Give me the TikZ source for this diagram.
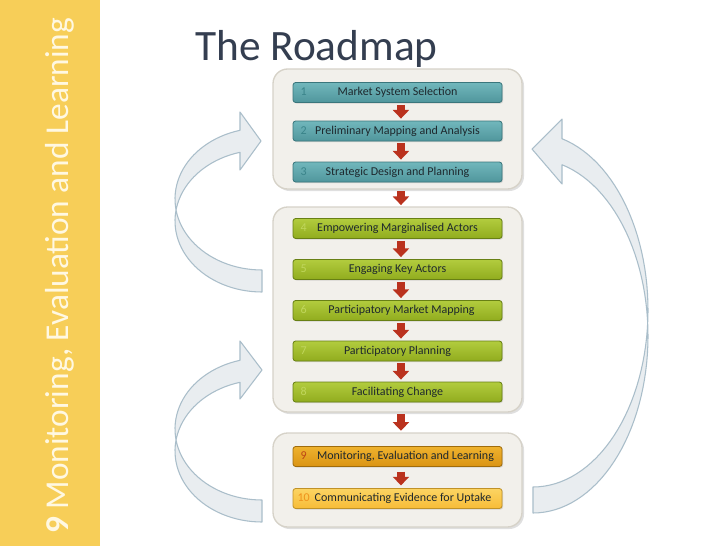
\documentclass[tikz,border=0pt]{standalone}
\usepackage{fontspec}
\setmainfont{Carlito}
\usetikzlibrary{arrows.meta,shadows}

\definecolor{bandyellow}{RGB}{247,206,88}
\definecolor{bandtext}{RGB}{255,248,226}
\definecolor{titleblue}{RGB}{52,62,80}
\definecolor{panelfill}{RGB}{242,240,235}
\definecolor{paneledge}{RGB}{214,210,200}
\definecolor{tealtop}{RGB}{113,183,188}
\definecolor{tealbot}{RGB}{80,150,156}
\definecolor{tealedge}{RGB}{58,118,124}
\definecolor{tealnum}{RGB}{58,132,138}
\definecolor{greentop}{RGB}{178,204,62}
\definecolor{greenbot}{RGB}{145,172,30}
\definecolor{greenedge}{RGB}{104,128,20}
\definecolor{greennum}{RGB}{192,214,92}
\definecolor{orangetop}{RGB}{238,178,46}
\definecolor{orangebot}{RGB}{218,148,20}
\definecolor{orangeedge}{RGB}{160,108,12}
\definecolor{orangenum}{RGB}{188,68,22}
\definecolor{goldtop}{RGB}{252,212,98}
\definecolor{goldbot}{RGB}{247,188,56}
\definecolor{goldedge}{RGB}{192,146,40}
\definecolor{goldnum}{RGB}{238,146,28}
\definecolor{flowred}{RGB}{186,50,30}
\definecolor{cyclefill}{RGB}{233,237,240}
\definecolor{cycleedge}{RGB}{170,190,202}
\definecolor{boxtext}{RGB}{30,40,45}

\begin{document}
\begin{tikzpicture}[x=0.75pt,y=-0.75pt,
  panel/.style={draw=paneledge, line width=1pt, fill=panelfill,
    rounded corners=11pt,
    drop shadow={opacity=0.25, shadow xshift=1.5pt, shadow yshift=-1.5pt}},
  stage/.style={draw, line width=0.6pt, rounded corners=2pt,
    minimum width=156.75pt, minimum height=15pt, inner sep=0pt,
    text=boxtext, font=\fontsize{9}{10}\selectfont,
    drop shadow={opacity=0.25, shadow xshift=0.8pt, shadow yshift=-0.8pt}},
  tealstage/.style={stage, draw=tealedge, top color=tealtop, bottom color=tealbot},
  greenstage/.style={stage, draw=greenedge, top color=greentop, bottom color=greenbot},
  orangestage/.style={stage, draw=orangeedge, top color=orangetop, bottom color=orangebot},
  goldstage/.style={stage, draw=goldedge, top color=goldtop, bottom color=goldbot},
  num/.style={anchor=base, inner sep=0pt, font=\fontsize{9}{10}\selectfont},
  downarrow/.style={draw=flowred, line width=6pt,
    -{Triangle[length=6.5pt,width=12pt]}, shorten <=1.5pt, shorten >=1.5pt},
  cyclearrow/.style={draw=cycleedge, fill=cyclefill, line width=0.8pt,
    line join=round}]

  \useasboundingbox (0,0) rectangle (728,546);
  \fill[white] (0,0) rectangle (728,546);
  \fill[bandyellow] (0,0) rectangle (100,546);

  \node[rotate=90, anchor=base west, inner sep=0pt, text=bandtext,
  font=\fontsize{25}{30}\selectfont] (side) at (68,534)
  {\textbf{9} Monitoring, Evaluation and Learning};

  \node[anchor=base west, inner sep=0pt, text=titleblue,
  font=\fontsize{32.5}{36}\selectfont] (title) at (195,60) {The Roadmap};

  \filldraw[cyclearrow] plot[domain=90:255.35, samples=50]
  ({262+87*cos(\x)},{199+71*sin(\x)}) -- (240,112) -- (261,141) --
  (240,170) -- plot[domain=255.35:90, samples=50]
  ({262+87*cos(\x)},{221+71*sin(\x)}) -- cycle;

  \filldraw[cyclearrow] plot[domain=90:255.35, samples=50]
  ({262+87*cos(\x)},{429+71*sin(\x)}) -- (240,341) -- (262,370) --
  (240,399) -- plot[domain=255.35:90, samples=50]
  ({262+87*cos(\x)},{451+71*sin(\x)}) -- cycle;

  \filldraw[cyclearrow] plot[domain=90:-75.4, samples=60]
  ({533+115*cos(\x)},{310+177*sin(\x)}) -- (562,119) -- (532,149) --
  (562,184) -- plot[domain=-75.4:90, samples=60]
  ({533+115*cos(\x)},{336+177*sin(\x)}) -- cycle;

  \draw[panel] (273,69) rectangle (522,189);
  \draw[panel] (273,207) rectangle (522,412);
  \draw[panel] (273,433) rectangle (522,527);

  \node[tealstage] (b1) at (397.5,92.5) {Market System Selection};
  \node[tealstage] (b2) at (397.5,131) {Preliminary Mapping and Analysis};
  \node[tealstage] (b3) at (397.5,172) {Strategic Design and Planning};
  \node[greenstage] (b4) at (397.5,228.5) {Empowering Marginalised Actors};
  \node[greenstage] (b5) at (397.5,269.5) {Engaging Key Actors};
  \node[greenstage] (b6) at (397.5,310.5)
  {\hspace*{6pt}Participatory Market Mapping};
  \node[greenstage] (b7) at (397.5,351) {Participatory Planning};
  \node[greenstage] (b8) at (397.5,392) {Facilitating Change};
  \node[orangestage] (b9) at (397.5,456.5)
  {\hspace*{12pt}Monitoring, Evaluation and Learning};
  \node[goldstage] (b10) at (397.5,498.5)
  {\hspace*{8.25pt}Communicating Evidence for Uptake};

  \node[num, text=tealnum] (n1) at ([xshift=8.25pt]b1.base west) {1};
  \node[num, text=tealnum] (n2) at ([xshift=8.25pt]b2.base west) {2};
  \node[num, text=tealnum] (n3) at ([xshift=8.25pt]b3.base west) {3};
  \node[num, text=greennum] (n4) at ([xshift=8.25pt]b4.base west) {4};
  \node[num, text=greennum] (n5) at ([xshift=8.25pt]b5.base west) {5};
  \node[num, text=greennum] (n6) at ([xshift=8.25pt]b6.base west) {6};
  \node[num, text=greennum] (n7) at ([xshift=8.25pt]b7.base west) {7};
  \node[num, text=greennum] (n8) at ([xshift=8.25pt]b8.base west) {8};
  \node[num, text=orangenum] (n9) at ([xshift=8.25pt]b9.base west) {9};
  \node[num, text=goldnum] (n10) at ([xshift=8.25pt]b10.base west) {10};

  \draw[downarrow] ([xshift=2.6pt]b1.south) -- ([xshift=2.6pt]b2.north);
  \draw[downarrow] ([xshift=2.6pt]b2.south) -- ([xshift=2.6pt]b3.north);
  \draw[downarrow, shorten <=6.75pt, shorten >=9.75pt]
  ([xshift=2.6pt]b3.south) -- ([xshift=2.6pt]b4.north);
  \draw[downarrow] ([xshift=2.6pt]b4.south) -- ([xshift=2.6pt]b5.north);
  \draw[downarrow] ([xshift=2.6pt]b5.south) -- ([xshift=2.6pt]b6.north);
  \draw[downarrow] ([xshift=2.6pt]b6.south) -- ([xshift=2.6pt]b7.north);
  \draw[downarrow] ([xshift=2.6pt]b7.south) -- ([xshift=2.6pt]b8.north);
  \draw[downarrow, shorten <=9pt, shorten >=11.5pt]
  ([xshift=2.6pt]b8.south) -- ([xshift=2.6pt]b9.north);
  \draw[downarrow, shorten <=3.5pt, shorten >=2pt]
  ([xshift=2.6pt]b9.south) -- ([xshift=2.6pt]b10.north);
\end{tikzpicture}
\end{document}
